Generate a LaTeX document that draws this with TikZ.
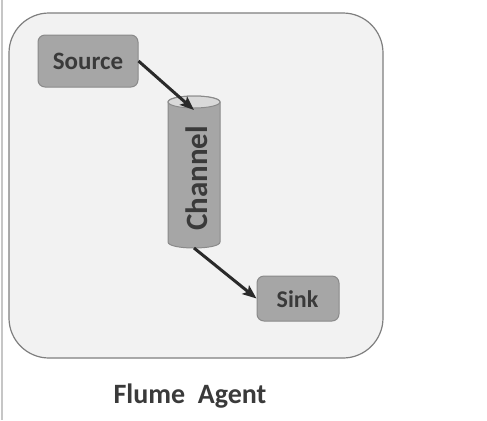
\documentclass[tikz,border=0pt]{standalone}
\usepackage{fontspec}
\setmainfont{Carlito}
\usetikzlibrary{arrows.meta}
\definecolor{agentfill}{HTML}{F2F2F2}
\definecolor{agentline}{HTML}{7F7F7F}
\definecolor{boxfill}{HTML}{A6A6A6}
\definecolor{boxline}{HTML}{8A8A8A}
\definecolor{capfill}{HTML}{D9D9D9}
\definecolor{txt}{HTML}{3A3A3A}
\definecolor{arr}{HTML}{2A2A2A}
\tikzset{
  compbox/.style={draw=boxline, fill=boxfill, line width=1bp, rounded corners=7bp, inner sep=0pt},
  lbl/.style={text=txt, font=\bfseries\fontsize{24bp}{28bp}\selectfont, inner sep=0pt},
  flow/.style={draw=arr, line width=3bp, -{Stealth[length=14bp,width=11bp,inset=3bp]}},
  cylpart/.style={draw=boxline, line width=1bp},
}
\begin{document}
\begin{tikzpicture}[x=1bp,y=-1bp]
\useasboundingbox (0,0) rectangle (487,420);
\fill[white] (0,0) rectangle (487,420);
\draw[gray!45, line width=1.5bp] (2,0) -- (2,420);
\draw[draw=agentline, fill=agentfill, line width=1.2bp, rounded corners=40bp] (9,13) rectangle (383,358);
\node[compbox, minimum width=100bp, minimum height=52bp] (src) at (88,61) {};
\node[lbl, anchor=base, font=\bfseries\fontsize{25bp}{28bp}\selectfont] (srct) at (88,69.5) {Source};
\node[compbox, minimum width=82bp, minimum height=45bp] (snk) at (298,298.5) {};
\node[lbl, anchor=base] (snkt) at (297.5,307) {Sink};
% channel cylinder
\draw[cylpart, fill=boxfill] (168,102) -- (168,242) .. controls (168,250) and (220,250) .. (220,242) -- (220,102) .. controls (220,94) and (168,94) .. (168,102) -- cycle;
\draw[cylpart, fill=capfill] (194,102) ellipse [x radius=26, y radius=6];
\node[text=txt, font=\bfseries\fontsize{31bp}{34bp}\selectfont, inner sep=0pt, rotate=90, anchor=base] (cht) at (207,178.5) {Channel};
\coordinate (chin) at (194,110);
\coordinate (chout) at (194,248);
\draw[flow] (src.east) -- (chin);
\draw[flow] (chout) -- (snk.west);
\node[text=txt, font=\bfseries\fontsize{28bp}{30bp}\selectfont, inner sep=0pt, anchor=base] (title) at (190,403) {Flume\ \ Agent};
\end{tikzpicture}
\end{document}
